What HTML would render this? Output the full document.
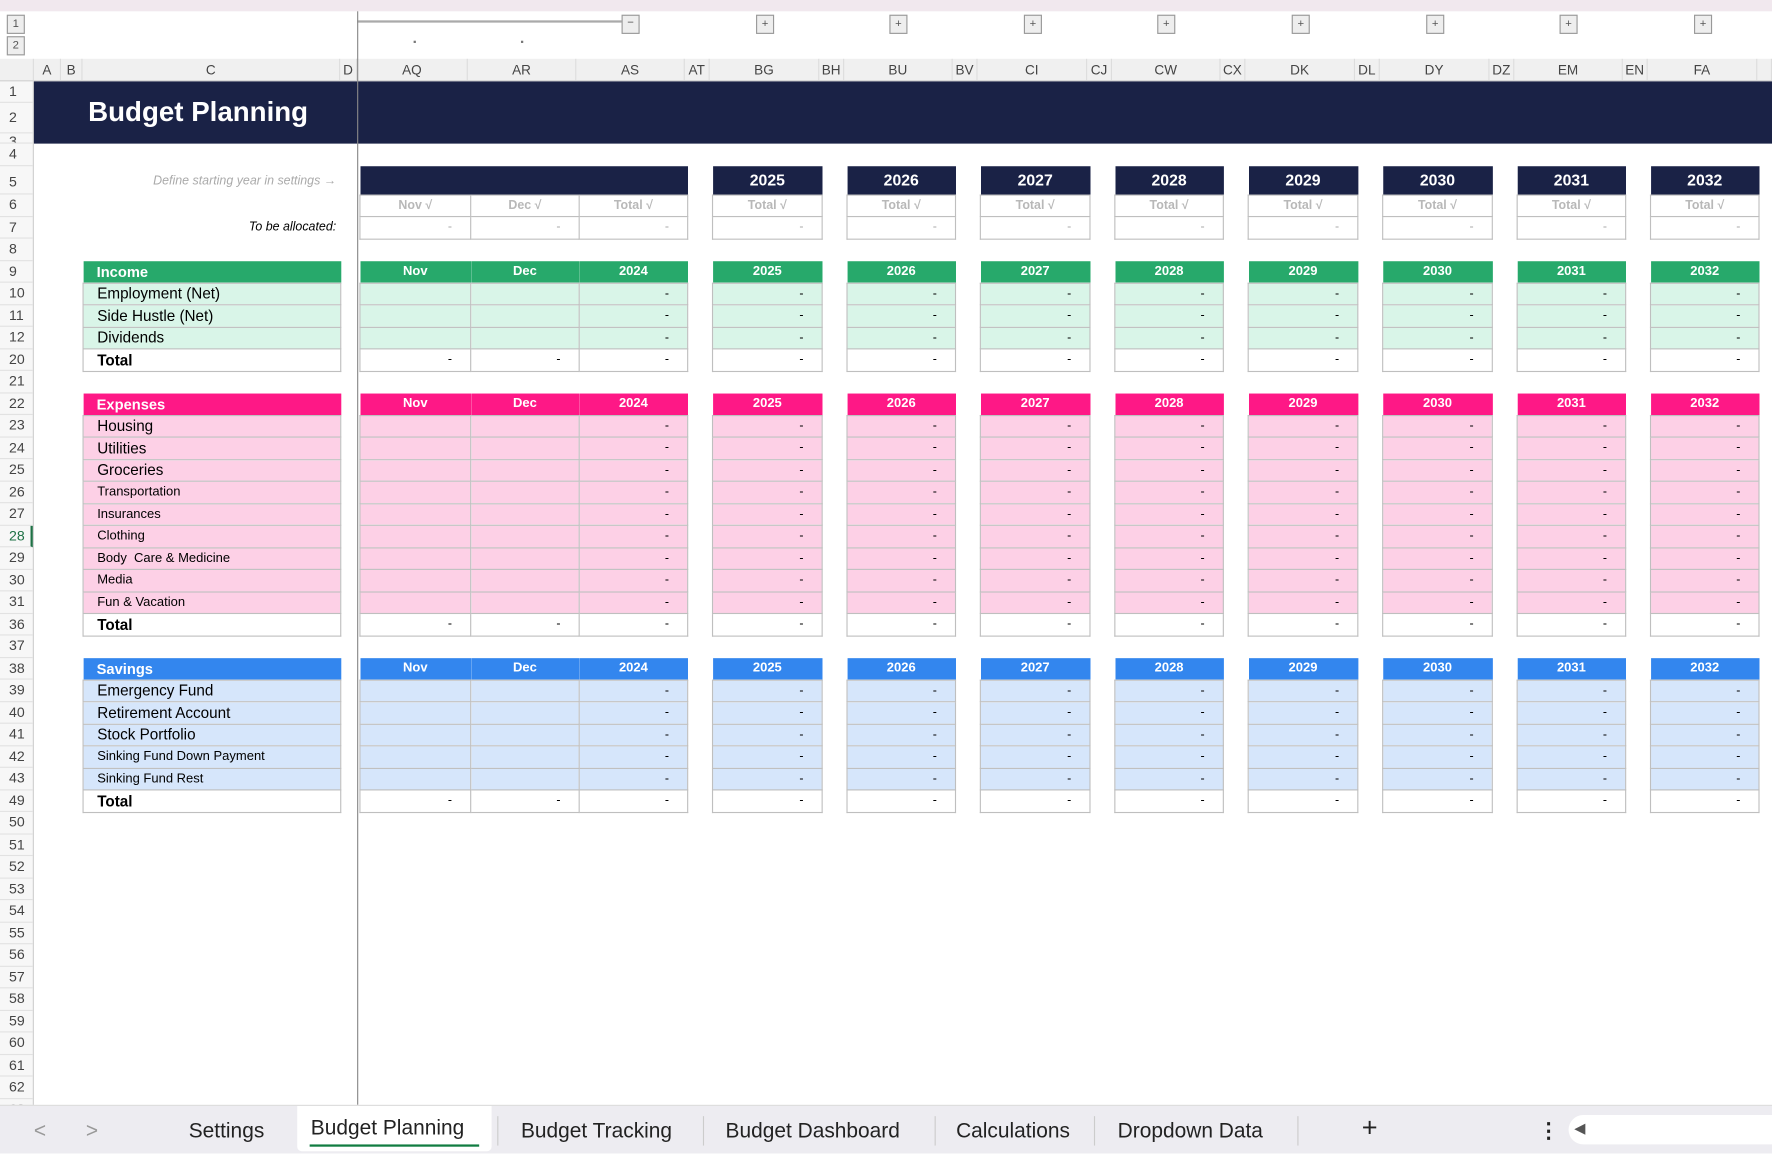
<!DOCTYPE html>
<html><head><meta charset="utf-8"><style>
*{box-sizing:border-box;margin:0;padding:0}
html,body{width:1772px;height:1158px;overflow:hidden;background:#fff;font-family:"Liberation Sans",sans-serif}
#w{position:absolute;left:0;top:0;width:1568px;height:1024px;transform:scale(1.1301,1.13086);transform-origin:0 0;overflow:hidden;background:#fff}
.a{position:absolute}
#top{left:0;top:0;width:1568px;height:10px;background:#f1e8ee}
.ob{width:16px;height:17px;border:1px solid #999;background:#eee;font-size:10px;color:#555;text-align:center;line-height:15px}
#ch{left:0;top:52px;height:20px;width:1568px;background:#f0f0f0;display:flex;border-bottom:1px solid #cfcfcf}
#ch div{font-size:12px;color:#444;text-align:center;line-height:20px;border-right:1px solid #ddd;flex:none}
#rh{left:0;top:72px;width:30px;background:#f7f7f7;border-right:1px solid #cfcfcf}
#rh div{font-size:12.5px;color:#444;padding-left:8px;height:19.5px;line-height:19.5px;border-bottom:1px solid #e2e2e2;overflow:hidden}
#title{left:30px;top:72px;width:1538px;height:55px;background:#1a2246}
#title span{position:absolute;left:48px;top:14px;color:#fff;font-weight:bold;font-size:24.5px}
table{position:absolute;left:73px;top:147px;border-collapse:collapse;table-layout:fixed}
td{height:19.5px;border:1px solid #bfbfbf;font-size:11px;text-align:right;padding:0 16px 0 0;color:#000;white-space:nowrap;overflow:hidden}
td.s,tr.gp td{border:none;background:#fff!important}
tr.h5 td{height:25px}
td.nv{background:#1a2246;color:#fff;font-weight:bold;font-size:14px;text-align:center;padding:0;border:none}
tr.r6 td{color:#b8b8b8;font-weight:bold;text-align:center;padding:0;font-size:11px}
tr.r7 td{color:#aaa}
td.lc{border:none;font-style:italic;text-align:right;padding-right:4px;font-size:11px}
tr.hd td{color:#fff;font-weight:bold;text-align:center;padding:0;font-size:11.5px;border:none}
tr.hd td.L{text-align:left;padding-left:12px;font-size:13px}
tr.hi td{background:#27a96b}tr.he td{background:#fe1886}tr.hs td{background:#3386ee}
tr.i td{background:#d9f5e8}tr.e td{background:#fdd0e6}tr.v td{background:#d6e6fb}
tr.t td{background:#fff}
td.L{text-align:left;padding-left:12px;font-size:13.5px}
td.L.sm{font-size:11.5px}
tr.t td.L{font-weight:bold}
#fz{left:316px;top:10px;width:1px;height:967px;background:#888}
#tabs{left:0;top:977px;width:1568px;height:43px;background:#edecf1;border-top:1px solid #ddd}
#tabs div{position:absolute;font-size:18.5px;color:#222;top:11px}
.sep{width:1px;height:26px;background:#ccc;top:9px!important}
</style></head><body><div id="w">
<div id="top" class="a"></div>
<div class="a ob" style="left:6px;top:13px">1</div>
<div class="a ob" style="left:6px;top:32px">2</div>
<div class="a" style="left:316px;top:18px;width:234px;height:2px;background:#aaa"></div>
<div class="a ob" style="left:550px;top:13px;line-height:14px">−</div>
<div class="a ob" style="left:669px;top:13px">+</div>
<div class="a ob" style="left:787px;top:13px">+</div>
<div class="a ob" style="left:906px;top:13px">+</div>
<div class="a ob" style="left:1024px;top:13px">+</div>
<div class="a ob" style="left:1143px;top:13px">+</div>
<div class="a ob" style="left:1262px;top:13px">+</div>
<div class="a ob" style="left:1380px;top:13px">+</div>
<div class="a ob" style="left:1499px;top:13px">+</div>
<div class="a" style="left:366px;top:36px;width:2px;height:2px;background:#777"></div>
<div class="a" style="left:461px;top:36px;width:2px;height:2px;background:#777"></div>
<div id="ch" class="a">
<div style="width:30px"></div><div style="width:24px">A</div><div style="width:19px">B</div><div style="width:228px">C</div><div style="width:15px">D</div><div style="width:98px">AQ</div><div style="width:96px">AR</div><div style="width:96px">AS</div><div style="width:22px">AT</div><div style="width:97px">BG</div><div style="width:22px">BH</div><div style="width:96px">BU</div><div style="width:22px">BV</div><div style="width:97px">CI</div><div style="width:22px">CJ</div><div style="width:96px">CW</div><div style="width:22px">CX</div><div style="width:97px">DK</div><div style="width:22px">DL</div><div style="width:97px">DY</div><div style="width:22px">DZ</div><div style="width:96px">EM</div><div style="width:22px">EN</div><div style="width:97px">FA</div><div style="width:13px"></div>
</div>
<div id="rh" class="a">
<div style="height:19px">1</div><div style="height:27px;line-height:27px">2</div><div style="height:9px;line-height:14px">3</div><div style="height:20px">4</div><div style="height:25px;line-height:28px">5</div>
<div>6</div><div>7</div><div>8</div><div>9</div><div>10</div><div>11</div><div>12</div><div>20</div><div>21</div><div>22</div><div>23</div><div>24</div><div>25</div><div>26</div><div>27</div><div style="color:#1e7145;border-right:2px solid #1e7145">28</div><div>29</div><div>30</div><div>31</div><div>36</div><div>37</div><div>38</div><div>39</div><div>40</div><div>41</div><div>42</div><div>43</div><div>49</div><div>50</div><div>51</div><div>52</div><div>53</div><div>54</div><div>55</div><div>56</div><div>57</div><div>58</div><div>59</div><div>60</div><div>61</div><div>62</div><div style="height:6px">63</div>
</div>
<div id="title" class="a"><span>Budget Planning</span></div>

<table>
<colgroup><col style="width:228px"><col style="width:13px"><col style="width:98px"><col style="width:96px"><col style="width:96px"><col style="width:22px"><col style="width:97px"><col style="width:22px"><col style="width:96px"><col style="width:22px"><col style="width:97px"><col style="width:22px"><col style="width:96px"><col style="width:22px"><col style="width:97px"><col style="width:22px"><col style="width:97px"><col style="width:22px"><col style="width:96px"><col style="width:22px"><col style="width:96px"></colgroup>
<tr class="h5"><td class="lc" style="color:#aaa">Define starting year in settings →</td><td class="s"></td><td class="nv" colspan="3"></td><td class="s"></td><td class="nv">2025</td><td class="s"></td><td class="nv">2026</td><td class="s"></td><td class="nv">2027</td><td class="s"></td><td class="nv">2028</td><td class="s"></td><td class="nv">2029</td><td class="s"></td><td class="nv">2030</td><td class="s"></td><td class="nv">2031</td><td class="s"></td><td class="nv">2032</td></tr>
<tr class="r6"><td class="s"></td><td class="s"></td><td>Nov √</td><td>Dec √</td><td>Total √</td><td class="s"></td><td>Total √</td><td class="s"></td><td>Total √</td><td class="s"></td><td>Total √</td><td class="s"></td><td>Total √</td><td class="s"></td><td>Total √</td><td class="s"></td><td>Total √</td><td class="s"></td><td>Total √</td><td class="s"></td><td>Total √</td></tr>
<tr class="r7"><td class="lc" style="color:#000">To be allocated:</td><td class="s"></td><td>-</td><td>-</td><td>-</td><td class="s"></td><td>-</td><td class="s"></td><td>-</td><td class="s"></td><td>-</td><td class="s"></td><td>-</td><td class="s"></td><td>-</td><td class="s"></td><td>-</td><td class="s"></td><td>-</td><td class="s"></td><td>-</td></tr>
<tr class="gp"><td colspan="21"></td></tr>

<tr class="hd hi"><td class="L">Income</td><td class="s"></td><td>Nov</td><td>Dec</td><td>2024</td><td class="s"></td><td>2025</td><td class="s"></td><td>2026</td><td class="s"></td><td>2027</td><td class="s"></td><td>2028</td><td class="s"></td><td>2029</td><td class="s"></td><td>2030</td><td class="s"></td><td>2031</td><td class="s"></td><td>2032</td></tr>
<tr class="i"><td class="L">Employment (Net)</td><td class="s"></td><td></td><td></td><td>-</td><td class="s"></td><td>-</td><td class="s"></td><td>-</td><td class="s"></td><td>-</td><td class="s"></td><td>-</td><td class="s"></td><td>-</td><td class="s"></td><td>-</td><td class="s"></td><td>-</td><td class="s"></td><td>-</td></tr>
<tr class="i"><td class="L">Side Hustle (Net)</td><td class="s"></td><td></td><td></td><td>-</td><td class="s"></td><td>-</td><td class="s"></td><td>-</td><td class="s"></td><td>-</td><td class="s"></td><td>-</td><td class="s"></td><td>-</td><td class="s"></td><td>-</td><td class="s"></td><td>-</td><td class="s"></td><td>-</td></tr>
<tr class="i"><td class="L">Dividends</td><td class="s"></td><td></td><td></td><td>-</td><td class="s"></td><td>-</td><td class="s"></td><td>-</td><td class="s"></td><td>-</td><td class="s"></td><td>-</td><td class="s"></td><td>-</td><td class="s"></td><td>-</td><td class="s"></td><td>-</td><td class="s"></td><td>-</td></tr>
<tr class="t"><td class="L">Total</td><td class="s"></td><td>-</td><td>-</td><td>-</td><td class="s"></td><td>-</td><td class="s"></td><td>-</td><td class="s"></td><td>-</td><td class="s"></td><td>-</td><td class="s"></td><td>-</td><td class="s"></td><td>-</td><td class="s"></td><td>-</td><td class="s"></td><td>-</td></tr>
<tr class="gp"><td colspan="21"></td></tr>

<tr class="hd he"><td class="L">Expenses</td><td class="s"></td><td>Nov</td><td>Dec</td><td>2024</td><td class="s"></td><td>2025</td><td class="s"></td><td>2026</td><td class="s"></td><td>2027</td><td class="s"></td><td>2028</td><td class="s"></td><td>2029</td><td class="s"></td><td>2030</td><td class="s"></td><td>2031</td><td class="s"></td><td>2032</td></tr>
<tr class="e"><td class="L">Housing</td><td class="s"></td><td></td><td></td><td>-</td><td class="s"></td><td>-</td><td class="s"></td><td>-</td><td class="s"></td><td>-</td><td class="s"></td><td>-</td><td class="s"></td><td>-</td><td class="s"></td><td>-</td><td class="s"></td><td>-</td><td class="s"></td><td>-</td></tr>
<tr class="e"><td class="L">Utilities</td><td class="s"></td><td></td><td></td><td>-</td><td class="s"></td><td>-</td><td class="s"></td><td>-</td><td class="s"></td><td>-</td><td class="s"></td><td>-</td><td class="s"></td><td>-</td><td class="s"></td><td>-</td><td class="s"></td><td>-</td><td class="s"></td><td>-</td></tr>
<tr class="e"><td class="L">Groceries</td><td class="s"></td><td></td><td></td><td>-</td><td class="s"></td><td>-</td><td class="s"></td><td>-</td><td class="s"></td><td>-</td><td class="s"></td><td>-</td><td class="s"></td><td>-</td><td class="s"></td><td>-</td><td class="s"></td><td>-</td><td class="s"></td><td>-</td></tr>
<tr class="e"><td class="L sm">Transportation</td><td class="s"></td><td></td><td></td><td>-</td><td class="s"></td><td>-</td><td class="s"></td><td>-</td><td class="s"></td><td>-</td><td class="s"></td><td>-</td><td class="s"></td><td>-</td><td class="s"></td><td>-</td><td class="s"></td><td>-</td><td class="s"></td><td>-</td></tr>
<tr class="e"><td class="L sm">Insurances</td><td class="s"></td><td></td><td></td><td>-</td><td class="s"></td><td>-</td><td class="s"></td><td>-</td><td class="s"></td><td>-</td><td class="s"></td><td>-</td><td class="s"></td><td>-</td><td class="s"></td><td>-</td><td class="s"></td><td>-</td><td class="s"></td><td>-</td></tr>
<tr class="e"><td class="L sm">Clothing</td><td class="s"></td><td></td><td></td><td>-</td><td class="s"></td><td>-</td><td class="s"></td><td>-</td><td class="s"></td><td>-</td><td class="s"></td><td>-</td><td class="s"></td><td>-</td><td class="s"></td><td>-</td><td class="s"></td><td>-</td><td class="s"></td><td>-</td></tr>
<tr class="e"><td class="L sm">Body &nbsp;Care &amp; Medicine</td><td class="s"></td><td></td><td></td><td>-</td><td class="s"></td><td>-</td><td class="s"></td><td>-</td><td class="s"></td><td>-</td><td class="s"></td><td>-</td><td class="s"></td><td>-</td><td class="s"></td><td>-</td><td class="s"></td><td>-</td><td class="s"></td><td>-</td></tr>
<tr class="e"><td class="L sm">Media</td><td class="s"></td><td></td><td></td><td>-</td><td class="s"></td><td>-</td><td class="s"></td><td>-</td><td class="s"></td><td>-</td><td class="s"></td><td>-</td><td class="s"></td><td>-</td><td class="s"></td><td>-</td><td class="s"></td><td>-</td><td class="s"></td><td>-</td></tr>
<tr class="e"><td class="L sm">Fun &amp; Vacation</td><td class="s"></td><td></td><td></td><td>-</td><td class="s"></td><td>-</td><td class="s"></td><td>-</td><td class="s"></td><td>-</td><td class="s"></td><td>-</td><td class="s"></td><td>-</td><td class="s"></td><td>-</td><td class="s"></td><td>-</td><td class="s"></td><td>-</td></tr>
<tr class="t"><td class="L">Total</td><td class="s"></td><td>-</td><td>-</td><td>-</td><td class="s"></td><td>-</td><td class="s"></td><td>-</td><td class="s"></td><td>-</td><td class="s"></td><td>-</td><td class="s"></td><td>-</td><td class="s"></td><td>-</td><td class="s"></td><td>-</td><td class="s"></td><td>-</td></tr>
<tr class="gp"><td colspan="21"></td></tr>

<tr class="hd hs"><td class="L">Savings</td><td class="s"></td><td>Nov</td><td>Dec</td><td>2024</td><td class="s"></td><td>2025</td><td class="s"></td><td>2026</td><td class="s"></td><td>2027</td><td class="s"></td><td>2028</td><td class="s"></td><td>2029</td><td class="s"></td><td>2030</td><td class="s"></td><td>2031</td><td class="s"></td><td>2032</td></tr>
<tr class="v"><td class="L">Emergency Fund</td><td class="s"></td><td></td><td></td><td>-</td><td class="s"></td><td>-</td><td class="s"></td><td>-</td><td class="s"></td><td>-</td><td class="s"></td><td>-</td><td class="s"></td><td>-</td><td class="s"></td><td>-</td><td class="s"></td><td>-</td><td class="s"></td><td>-</td></tr>
<tr class="v"><td class="L">Retirement Account</td><td class="s"></td><td></td><td></td><td>-</td><td class="s"></td><td>-</td><td class="s"></td><td>-</td><td class="s"></td><td>-</td><td class="s"></td><td>-</td><td class="s"></td><td>-</td><td class="s"></td><td>-</td><td class="s"></td><td>-</td><td class="s"></td><td>-</td></tr>
<tr class="v"><td class="L">Stock Portfolio</td><td class="s"></td><td></td><td></td><td>-</td><td class="s"></td><td>-</td><td class="s"></td><td>-</td><td class="s"></td><td>-</td><td class="s"></td><td>-</td><td class="s"></td><td>-</td><td class="s"></td><td>-</td><td class="s"></td><td>-</td><td class="s"></td><td>-</td></tr>
<tr class="v"><td class="L sm">Sinking Fund Down Payment</td><td class="s"></td><td></td><td></td><td>-</td><td class="s"></td><td>-</td><td class="s"></td><td>-</td><td class="s"></td><td>-</td><td class="s"></td><td>-</td><td class="s"></td><td>-</td><td class="s"></td><td>-</td><td class="s"></td><td>-</td><td class="s"></td><td>-</td></tr>
<tr class="v"><td class="L sm">Sinking Fund Rest</td><td class="s"></td><td></td><td></td><td>-</td><td class="s"></td><td>-</td><td class="s"></td><td>-</td><td class="s"></td><td>-</td><td class="s"></td><td>-</td><td class="s"></td><td>-</td><td class="s"></td><td>-</td><td class="s"></td><td>-</td><td class="s"></td><td>-</td></tr>
<tr class="t"><td class="L">Total</td><td class="s"></td><td>-</td><td>-</td><td>-</td><td class="s"></td><td>-</td><td class="s"></td><td>-</td><td class="s"></td><td>-</td><td class="s"></td><td>-</td><td class="s"></td><td>-</td><td class="s"></td><td>-</td><td class="s"></td><td>-</td><td class="s"></td><td>-</td></tr>
</table>

<div id="fz" class="a"></div>
<div id="tabs" class="a">
<div style="left:30px;color:#999">&lt;</div>
<div style="left:76px;color:#999">&gt;</div>
<div style="left:167px">Settings</div>
<div style="left:263px;top:0;width:172px;height:40px;background:#fff;border-radius:0 0 4px 4px"></div>
<div style="left:275px;top:8px">Budget Planning</div>
<div style="left:274px;top:34px;width:150px;height:2px;background:#107c41"></div>
<div class="sep" style="left:440px"></div>
<div style="left:461px">Budget Tracking</div>
<div class="sep" style="left:622px"></div>
<div style="left:642px">Budget Dashboard</div>
<div class="sep" style="left:827px"></div>
<div style="left:846px">Calculations</div>
<div class="sep" style="left:968px"></div>
<div style="left:989px">Dropdown Data</div>
<div class="sep" style="left:1148px"></div>
<div style="left:1205px;font-size:24px;top:6px">+</div>
<div style="left:1361px;font-weight:bold">⋮</div>
<div style="left:1388px;top:8px;width:180px;height:26px;background:#fff;border-radius:13px 0 0 13px"></div>
<div style="left:1393px;top:12px;font-size:13px;color:#555">◀</div>
</div>
</div></body></html>
